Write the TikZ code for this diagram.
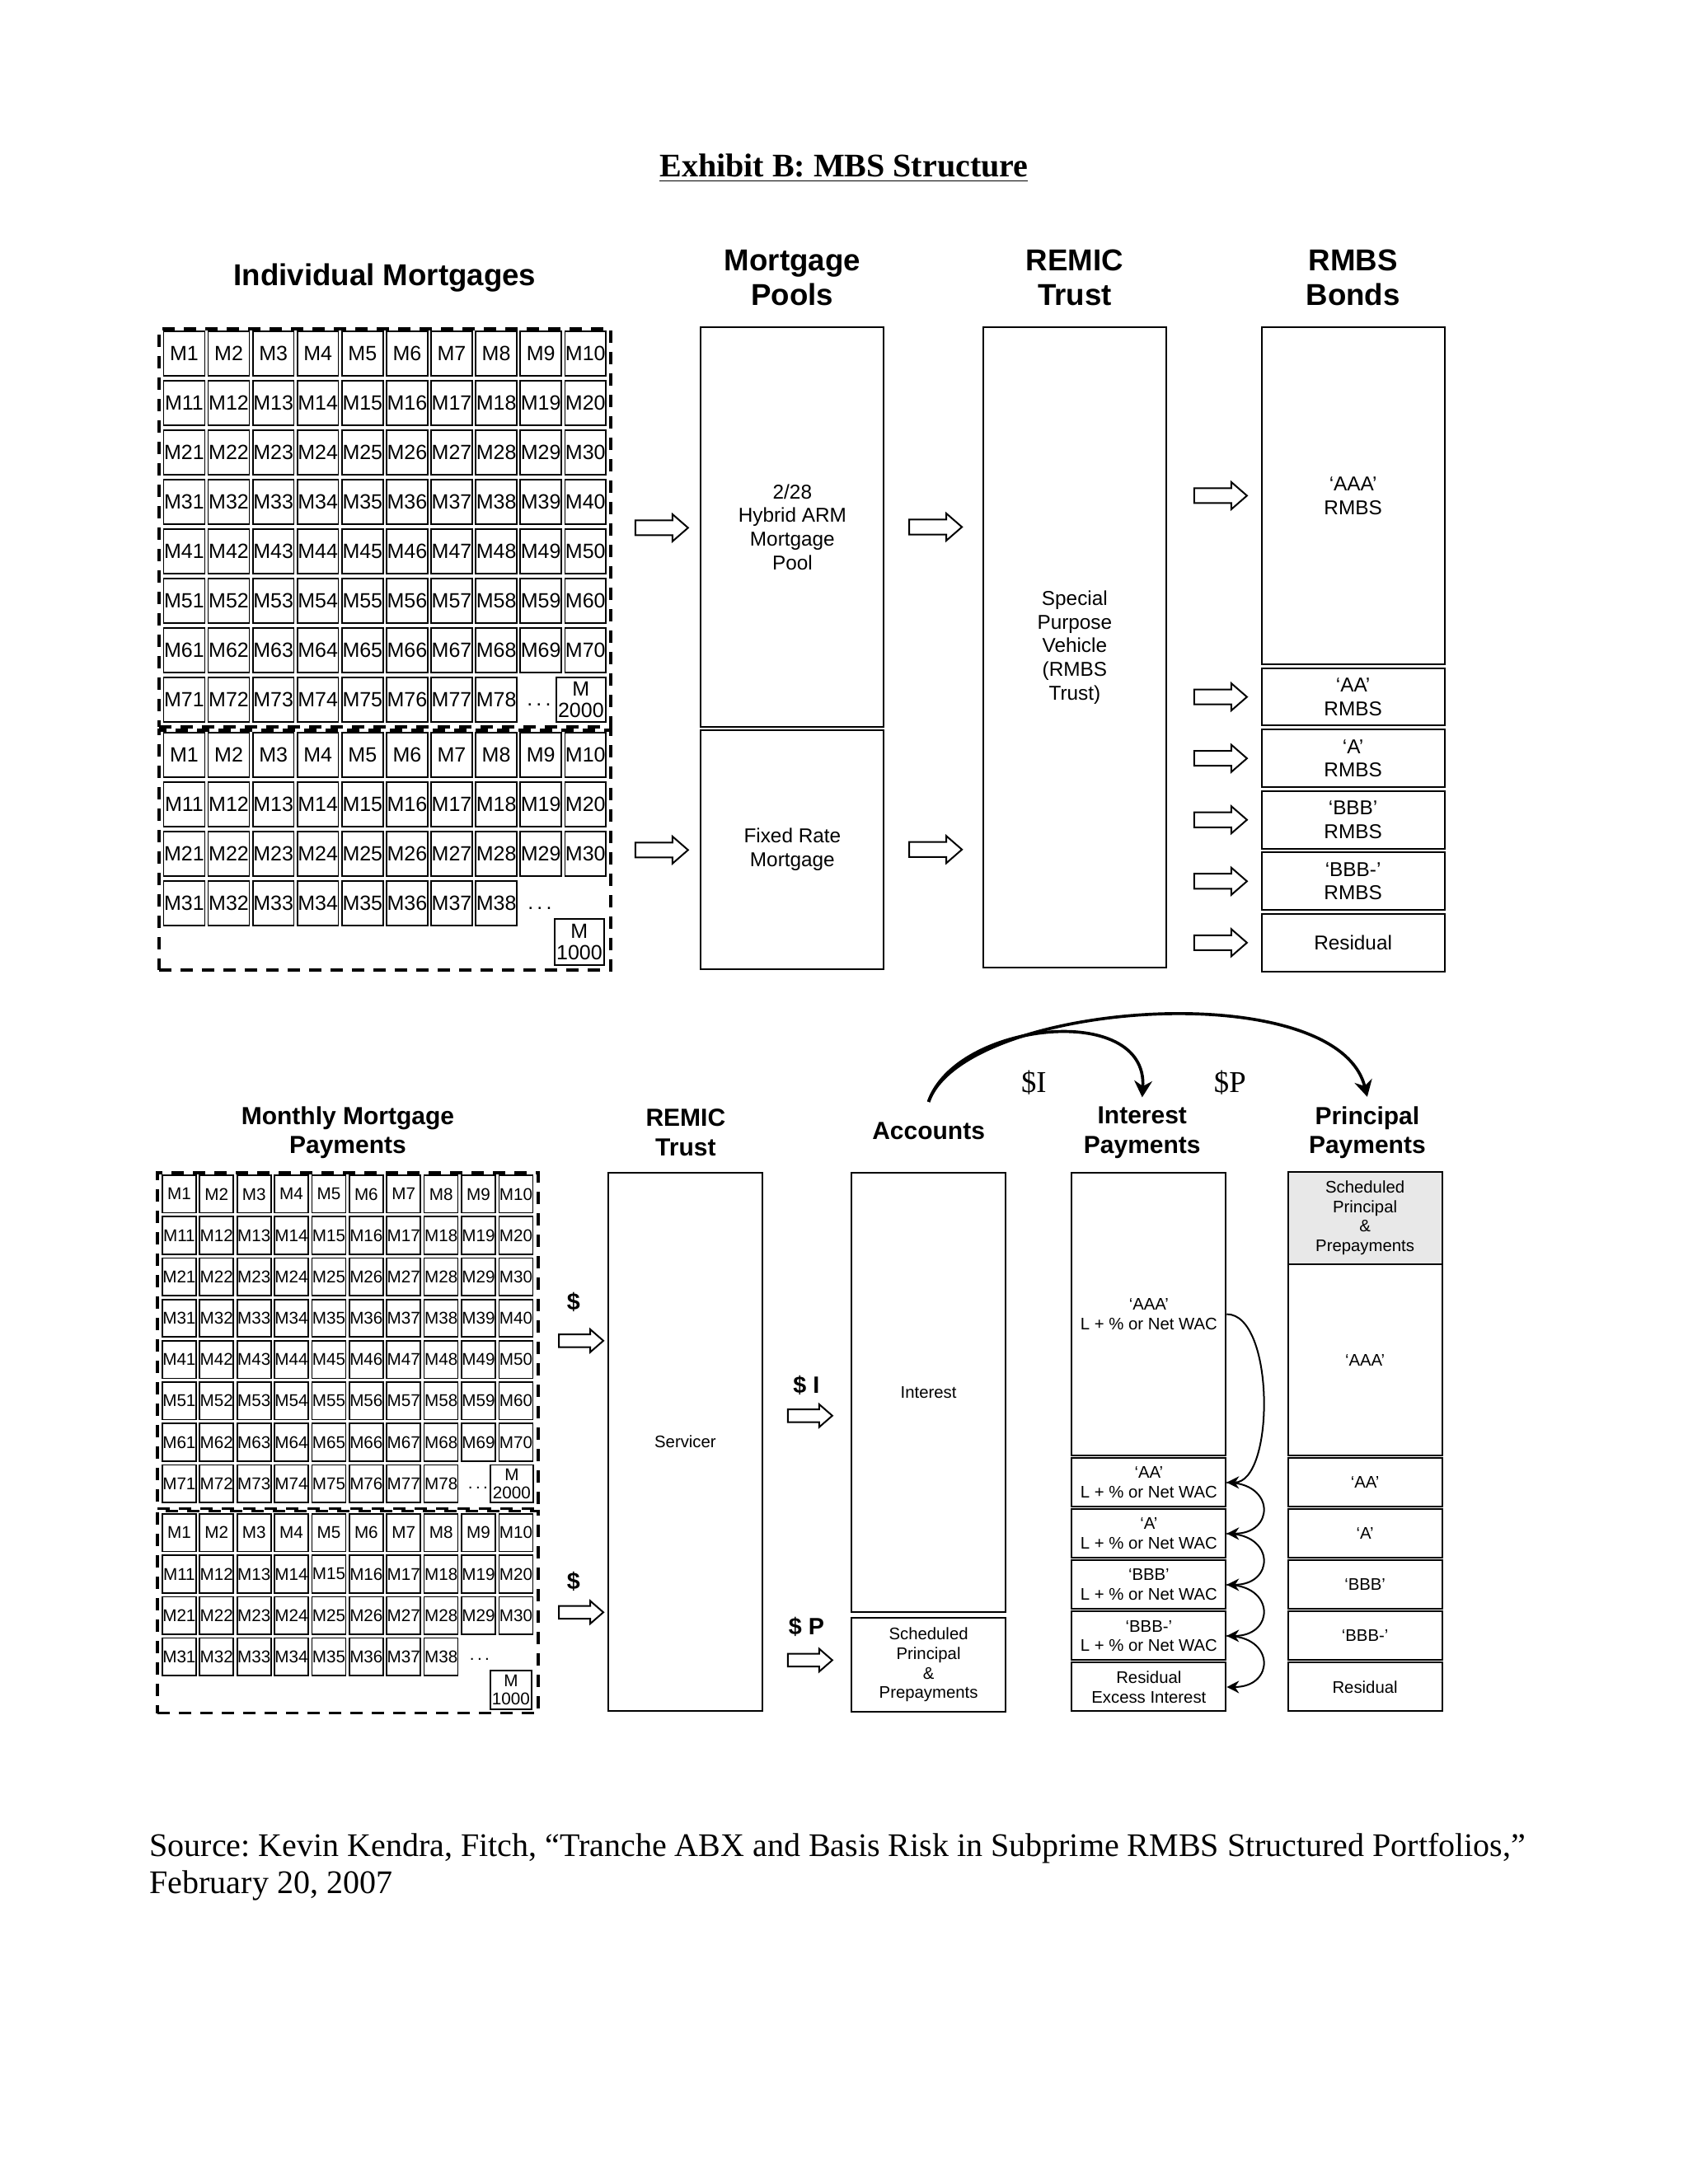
\documentclass[tikz,border=0pt]{standalone}
\usepackage{fontspec}
\setmainfont{Liberation Serif}
\setsansfont{Liberation Sans}
\usepackage{tikz}
\usetikzlibrary{positioning, calc}
\usetikzlibrary{shapes, arrows.meta}
\tikzstyle{heading}=[font=\sffamily\bfseries\fontsize{11}{12.6}\selectfont, align=center]
\tikzstyle{subheading}=[font=\sffamily\bfseries\fontsize{9}{10.6}\selectfont, align=center]
\tikzstyle{loan}=[rectangle, draw, line width=0.5pt, minimum width=0.525cm, minimum height=0.565cm, inner sep=0pt, align=center, font=\sffamily\fontsize{7.5}{8}\selectfont]
\tikzstyle{small loan}=[loan, minimum width=0.432cm, minimum height=0.48cm, font=\sffamily\fontsize{6.2}{6.6}\selectfont]
\tikzstyle{pool}=[rectangle, draw, line width=1pt, dash pattern=on 4.5pt off 3.3pt, inner sep=0pt]
\tikzstyle{component}=[rectangle, draw, line width=0.6pt, minimum width=2.34cm, inner sep=1pt, align=center, font=\sffamily\fontsize{7.3}{8.6}\selectfont]
\tikzstyle{small component}=[component, minimum width=1.97cm, font=\sffamily\fontsize{6.1}{7.1}\selectfont]
\tikzstyle{block arrow}=[single arrow, draw, line width=0.6pt, fill=white, minimum height=0.675cm, inner xsep=0pt, inner ysep=0.085cm, single arrow head extend=0.078cm, single arrow tip angle=82]
\tikzstyle{small block arrow}=[block arrow, minimum height=0.569cm, inner ysep=0.071cm, single arrow head extend=0.065cm]
\tikzstyle{flow}=[line width=1.1pt, -{Stealth[length=6pt, width=6.5pt]}]
\tikzstyle{cascade}=[line width=0.6pt, -{Stealth[length=4.5pt, width=4.5pt]}]
\tikzstyle{dollar}=[font=\sffamily\bfseries\fontsize{8.6}{10}\selectfont]

\begin{document}
\frenchspacing
\begin{tikzpicture}
    \useasboundingbox (0,0) rectangle (21.59,-27.94);

    \node (title) at (10.795,-2.151) {\fontsize{12}{14}\selectfont\bfseries\underline{Exhibit B: MBS Structure}};

    % Headings of the upper part
    \node[heading] (individual) at (4.923,-3.55) {Individual Mortgages};
    \node[heading] (pools head) at (10.136,-3.55) {Mortgage\\Pools};
    \node[heading] (remic head) at (13.747,-3.55) {REMIC\\Trust};
    \node[heading] (rmbs head) at (17.308,-3.55) {RMBS\\Bonds};

    % Individual mortgages
    \node[pool, minimum width=5.777cm, minimum height=5.092cm] (pool a) at (4.923,-6.752) {};
    \node[pool, minimum width=5.777cm, minimum height=3.068cm] (pool b) at (4.923,-10.874) {};
    \foreach \r in {0,...,6}
        \foreach \c in {1,...,10} {
            \pgfmathtruncatemacro{\n}{10*\r+\c}
            \node[loan] (pool a m\n) at ({2.356+0.5703*(\c-1)}, {-4.523-0.6325*\r}) {M\n};
        }
    \foreach \c in {1,...,8}
        \node[loan] (pool a m7\c) at ({2.356+0.5703*(\c-1)}, -8.951) {M7\c};
    \node[font=\sffamily\fontsize{7.5}{8}\selectfont] (pool a dots) at (6.894,-9.013) {.\,.\,.};
    \node[loan, minimum width=0.633cm] (pool a m2000) at (7.432,-8.951) {M\\2000};

    \foreach \r in {0,...,2}
        \foreach \c in {1,...,10} {
            \pgfmathtruncatemacro{\n}{10*\r+\c}
            \node[loan] (pool b m\n) at ({2.356+0.5703*(\c-1)}, {-9.657-0.6325*\r}) {M\n};
        }
    \foreach \c in {1,...,8}
        \node[loan] (pool b m3\c) at ({2.356+0.5703*(\c-1)}, -11.555) {M3\c};
    \node[font=\sffamily\fontsize{7.5}{8}\selectfont] (pool b dots) at (6.905,-11.62) {.\,.\,.};
    \node[loan, minimum width=0.633cm, minimum height=0.586cm] (pool b m1000) at (7.411,-12.05) {M\\1000};

    % Pools, trust and bonds
    \node[component, minimum height=5.113cm] (hybrid) at (10.136,-6.742) {2/28\\Hybrid ARM\\Mortgage\\Pool};
    \node[component, minimum height=3.057cm, below=0.02cm of hybrid] (fixed) {Fixed Rate\\Mortgage};
    \node[component, minimum height=8.191cm] (spv) at (13.747,-8.281) {Special\\Purpose\\Vehicle\\(RMBS\\Trust)};

    \node[component, minimum height=4.312cm] (aaa bond) at (17.308,-6.341) {‘AAA’\\RMBS};
    \node[component, minimum height=0.735cm, below=0.03cm of aaa bond] (aa bond) {‘AA’\\RMBS};
    \node[component, minimum height=0.735cm, below=0.03cm of aa bond] (a bond) {‘A’\\RMBS};
    \node[component, minimum height=0.735cm, below=0.03cm of a bond] (bbb bond) {‘BBB’\\RMBS};
    \node[component, minimum height=0.735cm, below=0.03cm of bbb bond] (bbbm bond) {‘BBB-’\\RMBS};
    \node[component, minimum height=0.735cm, below=0.03cm of bbbm bond] (residual bond) {Residual};

    \node[block arrow] (in hybrid) at ([xshift=0.58cm]pool a.east) {};
    \node[block arrow] (in fixed) at ([xshift=0.58cm]pool b.east) {};
    \node[block arrow] (out hybrid) at ([xshift=0.596cm]hybrid.east) {};
    \node[block arrow] (out fixed) at ([xshift=0.596cm]fixed.east) {};
    \foreach \b in {aaa bond, aa bond, a bond, bbb bond, bbbm bond, residual bond}
        \node[block arrow] (in \b) at ([xshift=-0.569cm]\b.west) {};

    % Headings of the lower part
    \node[subheading] (monthly) at (4.449,-14.49) {Monthly Mortgage\\Payments};
    \node[subheading] (remic trust) at (8.771,-14.49) {REMIC\\Trust};
    \node[subheading] (accounts) at (11.878,-14.47) {Accounts};
    \node[subheading] (interest head) at (14.611,-14.49) {Interest\\Payments};
    \node[subheading] (principal head) at (17.49,-14.49) {Principal\\Payments};

    % Monthly payments
    \node[pool, minimum width=4.870cm, minimum height=4.301cm] (pay a) at (4.449,-17.152) {};
    \node[pool, minimum width=4.870cm, minimum height=2.583cm] (pay b) at (4.449,-20.626) {};
    \foreach \r in {0,...,6}
        \foreach \c in {1,...,10} {
            \pgfmathtruncatemacro{\n}{10*\r+\c}
            \node[small loan] (pay a m\n) at ({2.292+0.4786*(\c-1)}, {-15.276-0.5292*\r}) {M\n};
        }
    \foreach \c in {1,...,8}
        \node[small loan] (pay a m7\c) at ({2.292+0.4786*(\c-1)}, -18.980) {M7\c};
    \node[font=\sffamily\fontsize{6.2}{6.6}\selectfont] (pay a dots) at (6.114,-19.039) {.\,.\,.};
    \node[small loan, minimum width=0.548cm] (pay a m2000) at (6.547,-18.980) {M\\2000};

    \foreach \r in {0,...,2}
        \foreach \c in {1,...,10} {
            \pgfmathtruncatemacro{\n}{10*\r+\c}
            \node[small loan] (pay b m\n) at ({2.292+0.4786*(\c-1)}, {-19.608-0.5292*\r}) {M\n};
        }
    \foreach \c in {1,...,8}
        \node[small loan] (pay b m3\c) at ({2.292+0.4786*(\c-1)}, -21.196) {M3\c};
    \node[font=\sffamily\fontsize{6.2}{6.6}\selectfont] (pay b dots) at (6.135,-21.232) {.\,.\,.};
    \node[small loan, minimum width=0.527cm, minimum height=0.495cm] (pay b m1000) at (6.536,-21.617) {M\\1000};

    % Servicer and accounts
    \node[small component, minimum height=6.884cm] (servicer) at (8.766,-18.443) {Servicer};
    \node[small block arrow] (in pay a) at ([xshift=0.485cm]pay a.east) {};
    \node[small block arrow] (in pay b) at ([xshift=0.485cm]pay b.east) {};
    \node[dollar] (dollar a) at ([xshift=-0.05cm, yshift=0.49cm]in pay a) {\$};
    \node[dollar] (dollar b) at ([xshift=-0.05cm, yshift=0.39cm]in pay b) {\$};

    \node[small component, minimum height=5.624cm] (interest acct) at (11.878,-17.813) {Interest};
    \node[small component, minimum height=1.195cm, below=0.053cm of interest acct] (principal acct) {Scheduled\\Principal\\\&\\Prepayments};
    \node[small block arrow] (in interest acct) at ([xshift=-0.567cm, yshift=-0.298cm]interest acct.west) {};
    \node[small block arrow] (in principal acct) at ([xshift=-0.567cm, yshift=0.058cm]principal acct.west) {};
    \node[dollar] (dollar i) at ([yshift=0.39cm]in interest acct) {\$ I};
    \node[dollar] (dollar p) at ([yshift=0.427cm]in principal acct) {\$ P};

    % Interest payments
    \node[small component, minimum height=3.621cm] (aaa int) at (14.696,-16.812) {‘AAA’\\L + \% or Net WAC};
    \node[small component, minimum height=0.622cm, below=0.011cm of aaa int] (aa int) {‘AA’\\L + \% or Net WAC};
    \node[small component, minimum height=0.622cm, below=0.011cm of aa int] (a int) {‘A’\\L + \% or Net WAC};
    \node[small component, minimum height=0.622cm, below=0.011cm of a int] (bbb int) {‘BBB’\\L + \% or Net WAC};
    \node[small component, minimum height=0.622cm, below=0.011cm of bbb int] (bbbm int) {‘BBB-’\\L + \% or Net WAC};
    \node[small component, minimum height=0.622cm, below=0.011cm of bbbm int] (residual int) {Residual\\Excess Interest};

    % Principal payments
    \node[small component, fill=black!9, minimum height=1.181cm] (sched prin) at (17.461,-15.581) {Scheduled\\Principal\\\&\\Prepayments};
    \node[small component, minimum height=2.451cm] (aaa prin) at (17.461,-17.397) {‘AAA’};
    \node[small component, minimum height=0.622cm, below=0.011cm of aaa prin] (aa prin) {‘AA’};
    \node[small component, minimum height=0.622cm, below=0.011cm of aa prin] (a prin) {‘A’};
    \node[small component, minimum height=0.622cm, below=0.011cm of a prin] (bbb prin) {‘BBB’};
    \node[small component, minimum height=0.622cm, below=0.011cm of bbb prin] (bbbm prin) {‘BBB-’};
    \node[small component, minimum height=0.622cm, below=0.011cm of bbbm prin] (residual prin) {Residual};

    % Cash from the accounts
    \draw[flow] ([yshift=0.14cm]accounts.north) .. controls +(0.348,1.023) and +(0.074,1.233) .. (interest head.north);
    \draw[flow] ([yshift=0.14cm]accounts.north) .. controls +(0.453,1.286) and +(-0.39,1.571) .. (principal head.north);
    \node[font=\fontsize{11}{13}\selectfont] (cash i) at (13.225,-13.847) {\$I};
    \node[font=\fontsize{11}{13}\selectfont] (cash p) at (15.734,-13.847) {\$P};

    % Interest waterfall
    \draw[cascade] (aaa int.east) .. controls +(0.62,0) and +(0.62,0) .. (aa int.east);
    \draw[cascade] (aa int.east) .. controls +(0.62,0) and +(0.62,0) .. (a int.east);
    \draw[cascade] (a int.east) .. controls +(0.62,0) and +(0.62,0) .. (bbb int.east);
    \draw[cascade] (bbb int.east) .. controls +(0.62,0) and +(0.62,0) .. (bbbm int.east);
    \draw[cascade] (bbbm int.east) .. controls +(0.62,0) and +(0.62,0) .. (residual int.east);

    \node[anchor=west, align=left, inner sep=0pt, font=\fontsize{12}{13.6}\selectfont] (source) at (1.908,-23.883) {Source: Kevin Kendra, Fitch, “Tranche ABX and Basis Risk in Subprime RMBS Structured Portfolios,”\\February 20, 2007};
\end{tikzpicture}
\end{document}
